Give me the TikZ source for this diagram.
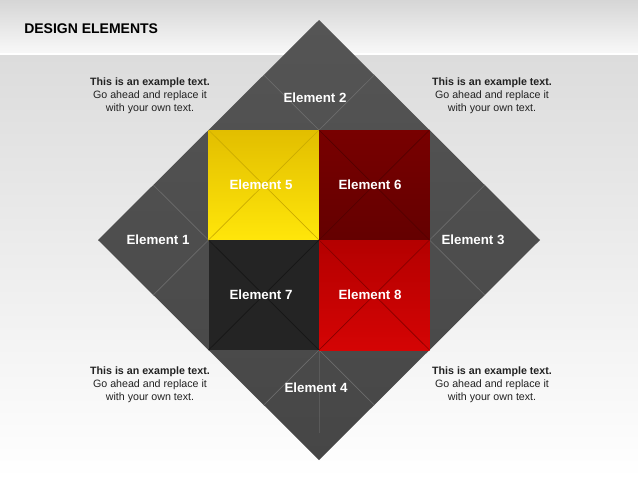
\documentclass[tikz,border=0pt]{standalone}
\usepackage{fontspec}
\setmainfont{Liberation Sans}
\usetikzlibrary{calc}
\definecolor{headtop}{HTML}{D6D6D6}
\definecolor{headbot}{HTML}{F8F8F8}
\definecolor{bodytop}{HTML}{DCDCDC}
\definecolor{slate}{HTML}{555555}
\definecolor{slatedark}{HTML}{464646}
\definecolor{facetline}{HTML}{6C6C6C}
\definecolor{goldtop}{HTML}{E2BE00}
\definecolor{goldbot}{HTML}{FFE60A}
\definecolor{wine}{HTML}{780000}
\definecolor{winedark}{HTML}{640000}
\definecolor{coal}{HTML}{242424}
\definecolor{redtop}{HTML}{B40000}
\definecolor{redbot}{HTML}{D40404}
\definecolor{notetext}{HTML}{222222}

\begin{document}
\begin{tikzpicture}[x=0.75pt,y=-0.75pt,
  elem/.style={text=white,font=\bfseries\fontsize{10}{12}\selectfont},
  note/.style={align=center,text=notetext,font=\fontsize{8}{9.75}\selectfont},
  facet/.style={draw=facetline,line width=0.5pt},
  axis/.style={draw=facetline,line width=0.4pt,opacity=0.5},
  crease/.style={line width=0.5pt}]
\useasboundingbox (0,0) rectangle (638,479);

% background
\shade[top color=headtop,bottom color=headbot] (0,0) rectangle (638,53);
\fill[white] (0,53) rectangle (638,55);
\shade[top color=bodytop,bottom color=white] (0,55) rectangle (638,479);
\node[anchor=west,inner sep=0pt,font=\bfseries\fontsize{10.5}{12}\selectfont] (title) at (24,29) {DESIGN ELEMENTS};

% diamond and square corners
\coordinate (T) at (319,20);
\coordinate (L) at (98,240);
\coordinate (R) at (540,240);
\coordinate (B) at (319,460);
\coordinate (C) at (319,240);
\coordinate (TL) at (208.5,130);
\coordinate (TR) at (429.5,130);
\coordinate (BR) at (429.5,350);
\coordinate (BL) at (208.5,350);
\coordinate (mT) at (319,130);
\coordinate (mL) at (208.5,240);
\coordinate (mR) at (429.5,240);
\coordinate (mB) at (319,350);

\shade[top color=slate,bottom color=slatedark] (T) -- (R) -- (B) -- (L) -- cycle;

% facets of the outer triangles
\draw[facet] ($(T)!0.5!(TL)$) -- (mT) -- ($(T)!0.5!(TR)$);
\draw[facet] ($(L)!0.5!(TL)$) -- (mL) -- ($(L)!0.5!(BL)$);
\draw[facet] ($(R)!0.5!(TR)$) -- (mR) -- ($(R)!0.5!(BR)$);
\draw[facet] ($(B)!0.5!(BL)$) -- (mB) -- ($(B)!0.5!(BR)$);
\draw[axis] (mB) -- ($(mB)!0.75!(B)$);

% the four inner squares
\shade[top color=goldtop,bottom color=goldbot] (TL) rectangle (C);
\shade[top color=wine,bottom color=winedark] (mT) rectangle (mR);
\fill[coal] (mL) rectangle (mB);
\shade[top color=redtop,bottom color=redbot] (C) rectangle (BR);

\draw[crease,draw=goldtop!90!black] (TL) -- (C) (mT) -- (mL);
\draw[crease,draw=wine!70!black] (mT) -- (mR) (TR) -- (C);
\draw[crease,draw=coal!60!black] (mL) -- (mB) (C) -- (BL);
\draw[crease,draw=redtop!75!black] (C) -- (BR) (mR) -- (mB);

% labels
\node[elem] (el1) at (158,240) {Element 1};
\node[elem] (el2) at (315,98) {Element 2};
\node[elem] (el3) at (473,240) {Element 3};
\node[elem] (el4) at (316,388) {Element 4};
\node[elem] (el5) at (261,185) {Element 5};
\node[elem] (el6) at (370,185) {Element 6};
\node[elem] (el7) at (261,295) {Element 7};
\node[elem] (el8) at (370,295) {Element 8};

\node[note] (noteTL) at (150,96) {\textbf{This is an example text.}\\Go ahead and replace it\\with your own text.};
\node[note] (noteTR) at (492,96) {\textbf{This is an example text.}\\Go ahead and replace it\\with your own text.};
\node[note] (noteBL) at (150,385) {\textbf{This is an example text.}\\Go ahead and replace it\\with your own text.};
\node[note] (noteBR) at (492,385) {\textbf{This is an example text.}\\Go ahead and replace it\\with your own text.};
\end{tikzpicture}
\end{document}
